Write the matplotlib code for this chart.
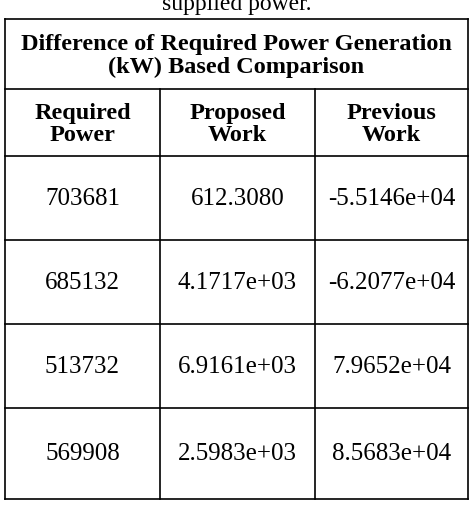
import matplotlib.pyplot as plt

title = ["Difference of Required Power Generation", "(kW) Based Comparison"]
columns = ["Required\nPower", "Proposed\nWork", "Previous\nWork"]
required = ["703681", "685132", "513732", "569908"]
proposed = ["612.3080", "4.1717e+03", "6.9161e+03", "2.5983e+03"]
previous = ["-5.5146e+04", "-6.2077e+04", "7.9652e+04", "8.5683e+04"]

W, H = 474, 506
fig = plt.figure(figsize=(W / 100, H / 100), dpi=100)
ax = fig.add_axes([0, 0, 1, 1])
ax.set_xlim(0, W)
ax.set_ylim(H, 0)
ax.axis("off")
plt.rcParams["font.family"] = "Liberation Serif"

xs = [5, 160, 315, 468]
ys = [20, 90, 157, 241, 325, 409, 500]
lw = 1.2
ax.plot([xs[0], xs[-1]], [ys[0], ys[0]], color="black", lw=lw)
for y in ys[1:]:
    ax.plot([xs[0], xs[-1]], [y, y], color="black", lw=lw)
for i, x in enumerate(xs):
    top = ys[0] if i in (0, 3) else ys[1]
    ax.plot([x, x], [top, ys[-1]], color="black", lw=lw)

ax.text(W / 2, 4, "supplied power.", ha="center", va="center", fontsize=17)
ax.text((xs[0] + xs[-1]) / 2, (ys[0] + ys[1]) / 2 + 1, "\n".join(title),
        ha="center", va="center", fontsize=17.5, fontweight="bold", linespacing=1.15)
for j, c in enumerate(columns):
    cx = (xs[j] + xs[j + 1]) / 2
    ax.text(cx, (ys[1] + ys[2]) / 2 + 1, c, ha="center", va="center",
            fontsize=17.5, fontweight="bold", linespacing=1.1)
for r, vals in enumerate(zip(required, proposed, previous)):
    cy = (ys[r + 2] + ys[r + 3]) / 2
    for j, v in enumerate(vals):
        cx = (xs[j] + xs[j + 1]) / 2
        ax.text(cx, cy, v, ha="center", va="center", fontsize=18)

fig.savefig("out.png", dpi=100)
